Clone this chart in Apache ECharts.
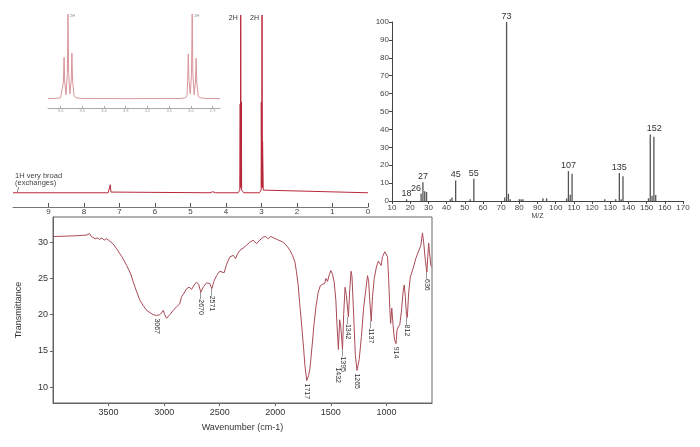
<!DOCTYPE html>
<html>
<head>
<meta charset="utf-8">
<script src="https://cdn.jsdelivr.net/npm/echarts@6/dist/echarts.min.js"></script>
<style>
  html, body { margin: 0; padding: 0; background: #fff; }
  #chart { width: 700px; height: 447px; }
</style>
</head>
<body>
<div id="chart"></div>
<script>
// 1H NMR (ppm, relative intensity)
const nmrPpm = [10, 7.32, 7.28, 7.26, 7.24, 7.2, 4.45, 4.37, 4.3, 3.66, 3.62, 3.61, 3.6, 3.595, 3.585, 3.575, 3.565, 3.56, 3.54, 3.5,
  3.06, 3.02, 3.01, 3.005, 2.995, 2.985, 2.975, 2.97, 2.95, 2.9, 0];
const nmrInt = [0, 0, 0.4, 4.5, 0.4, 0, 0, 0.6, 0, 0, 0.8, 1.5, 50, 3, 100, 3, 51, 1.5, 0.8, 0,
  0, 0.8, 1.5, 51, 3, 100, 3, 29, 1.5, 0.6, 0];
const nmrAssign = { 3.585: '2H', 2.985: '2H' };
const nmrTicks = [0, 1, 2, 3, 4, 5, 6, 7, 8, 9];

// expanded inset of the two triplets
const insetPpm = [3.658, 3.62, 3.6, 3.592, 3.587, 3.584, 3.581, 3.575, 3.569, 3.566, 3.563, 3.557, 3.551, 3.548, 3.545, 3.538, 3.53, 3.5,
  3.3, 3.05, 3.025, 3.018, 3.015, 3.012, 3.009, 3.003, 2.997, 2.994, 2.991, 2.985, 2.979, 2.976, 2.973, 2.966, 2.955, 2.93, 2.866];
const insetInt = [0.5, 0.8, 1.5, 3, 20, 49, 20, 5, 30, 100, 30, 6, 22, 54, 22, 4, 1.5, 0.6,
  0.5, 0.6, 1.5, 4, 22, 53, 22, 6, 30, 100, 30, 5, 20, 48, 20, 3, 1.5, 0.7, 0.5];
const insetTicks = [2.9, 3.0, 3.1, 3.2, 3.3, 3.4, 3.5, 3.6];

// mass spectrum
const msMz = [18, 26, 27, 28, 29, 42, 43, 45, 53, 55, 72, 73, 74, 75, 80, 81, 82, 93, 95, 106, 107, 108, 109,
  127, 133, 135, 136, 137, 151, 152, 153, 154, 155];
const msAbund = [1, 4, 10.5, 5.5, 5, 1, 2, 11.5, 1, 12.5, 2, 100, 4, 1, 1, 1, 1, 1.5, 1.5, 1.5, 16.7, 3.5, 15.2,
  1, 1, 15.6, 1, 13.8, 1.5, 37.2, 3, 35.9, 3.3];
const msLabeled = [18, 26, 27, 45, 55, 73, 107, 135, 152];

// IR spectrum
const irWavenumber = [4000, 3800, 3700, 3670, 3655, 3640, 3620, 3600, 3580, 3560, 3540, 3520, 3500, 3460, 3427, 3380, 3337, 3300,
  3278, 3250, 3218, 3190, 3157, 3120, 3098, 3067, 3040, 3020, 3008, 2995, 2978, 2950, 2918, 2888, 2860, 2843, 2820, 2798,
  2775, 2753, 2730, 2708, 2690, 2670, 2645, 2618, 2590, 2571, 2550, 2528, 2500, 2483, 2460, 2440, 2408, 2378, 2357, 2340,
  2318, 2290, 2258, 2230, 2198, 2168, 2140, 2109, 2085, 2064, 2040, 2024, 2000, 1970, 1940, 1914, 1890, 1869, 1845, 1824,
  1810, 1794, 1780, 1763, 1745, 1733, 1717, 1700, 1688, 1670, 1652, 1635, 1614, 1595, 1575, 1555, 1545, 1530, 1515, 1500,
  1485, 1470, 1455, 1445, 1432, 1421, 1412, 1395, 1385, 1372, 1360, 1342, 1330, 1318, 1310, 1295, 1280, 1265, 1245, 1225,
  1205, 1185, 1170, 1160, 1150, 1137, 1125, 1110, 1090, 1072, 1060, 1048, 1035, 1015, 1000, 990, 980, 970, 962, 952, 940,
  928, 914, 905, 895, 880, 865, 850, 840, 830, 820, 812, 800, 785, 760, 735, 710, 690, 676, 665, 650, 636, 628, 620, 612,
  600, 590];
const irTransmittance = [30.8, 30.9, 31.0, 31.2, 30.8, 30.9, 30.5, 30.6, 30.4, 30.6, 30.3, 30.5, 30.3, 29.8, 29.1, 28.0, 26.8, 25.6,
  24.5, 23.3, 22.0, 21.3, 20.6, 20.2, 20.0, 19.9, 20.0, 20.3, 20.6, 20.0, 19.5, 20.0, 20.6, 21.1, 21.5, 22.5, 23.0, 23.6,
  23.8, 23.5, 24.1, 24.5, 24.2, 23.1, 23.9, 24.4, 24.3, 23.6, 24.7, 25.4, 26.0, 26.1, 25.8, 26.9, 28.0, 28.2, 27.75, 28.4,
  28.9, 29.2, 29.6, 30.0, 30.3, 29.8, 30.3, 30.7, 30.8, 30.5, 30.8, 30.6, 30.5, 30.3, 30.1, 29.8, 29.4, 28.9, 28.2, 27.3,
  26.0, 24.1, 21.5, 18.6, 15.3, 12.9, 10.9, 11.6, 12.6, 15.5, 18.6, 21.0, 23.1, 24.0, 24.2, 24.3, 25.0, 24.6, 25.5, 26.1,
  25.6, 24.5, 22.0, 18.6, 15.2, 19.3, 18.6, 15.2, 20.0, 23.8, 22.6, 19.7, 23.5, 26.0, 25.3, 20.0, 14.5, 12.3, 13.8, 17.0,
  21.0, 23.5, 25.4, 24.6, 22.0, 19.1, 22.5, 25.0, 26.6, 27.4, 27.2, 26.8, 28.0, 28.7, 28.7, 28.0, 25.0, 21.0, 18.8, 20.9, 18.5,
  16.6, 16.0, 17.8, 18.3, 18.6, 20.5, 23.2, 24.1, 22.5, 20.0, 19.6, 23.0, 25.2, 26.4, 27.8, 28.8, 29.6, 31.3, 30.0, 27.5,
  25.9, 28.0, 29.9, 28.5, 26.8, 26.6];
const irPeaks = [3067, 2670, 2571, 1717, 1432, 1395, 1342, 1265, 1137, 914, 812, 636];
const irDashed = [2670, 2571, 1395, 1342, 1137, 812, 636];
const irTicksX = [1000, 1500, 2000, 2500, 3000, 3500];
const irTicksY = [10, 15, 20, 25, 30];

const FONT = 'Liberation Sans';
const myChart = echarts.init(document.getElementById('chart'));

const nmrData = nmrPpm.map((p, i) => {
  const item = { value: [p, nmrInt[i]] };
  if (nmrAssign[p]) {
    item.label = { show: true, formatter: nmrAssign[p], position: 'left', distance: 3, verticalAlign: 'top',
      fontSize: 7, color: '#333', fontFamily: FONT };
  }
  return item;
});
const insetData = insetPpm.map((p, i) => {
  const item = { value: [p, insetInt[i]] };
  if (insetInt[i] === 100) {
    item.label = { show: true, formatter: '2H', position: 'right', distance: 2, verticalAlign: 'top',
      fontSize: 4, color: '#888', fontFamily: FONT };
  }
  return item;
});
const msData = msMz.map((m, i) => {
  const item = { value: [m, msAbund[i]] };
  if (msLabeled.includes(m)) {
    item.label = { show: true, position: 'top', distance: 1, fontSize: 9, color: '#333', fontFamily: FONT,
      formatter: String(m),
      offset: m === 26 ? [-5, 0] : (m === 152 ? [4, 0] : [0, 0]) };
  }
  return item;
});
const irData = irWavenumber.map((w, i) => {
  const item = { value: [w, irTransmittance[i]] };
  if (irPeaks.includes(w)) {
    const dash = irDashed.includes(w);
    item.label = {
      show: true, position: 'bottom', distance: w === 1432 ? 18 : (dash ? 0 : 3),
      rotate: -90, align: 'left', verticalAlign: 'middle',
      offset: w === 1432 ? [4, 6] : [0, 0],
      formatter: (dash ? '\u2014' : '') + w, fontSize: 7, color: '#333', fontFamily: FONT
    };
  }
  return item;
});

// line series helper: invisible symbols so per-point labels can render
function lineSeries(xi, data, color) {
  return {
    type: 'line', xAxisIndex: xi, yAxisIndex: xi, data: data,
    showSymbol: true, showAllSymbol: true, symbol: 'circle', symbolSize: 0,
    lineStyle: { color: color, width: 1 }, itemStyle: { color: color },
    labelLayout: { hideOverlap: false }
  };
}

const option = {
  animation: false,
  textStyle: { fontFamily: FONT },
  grid: [
    { left: 13, top: 15, width: 355, height: 192 },
    { left: 48, top: 14, width: 172, height: 94 },
    { left: 392, top: 22, width: 291, height: 179 },
    { left: 53, top: 217, width: 379, height: 186, show: true, borderColor: '#666', borderWidth: 1 }
  ],
  xAxis: [
    {
      gridIndex: 0, type: 'value', min: 0, max: 10, inverse: true,
      axisLine: { onZero: false, lineStyle: { color: '#777' } },
      axisTick: { inside: true, length: 4, customValues: nmrTicks, lineStyle: { color: '#555' } },
      axisLabel: { customValues: nmrTicks, fontSize: 8, color: '#444', margin: 1 },
      splitLine: { show: false }
    },
    {
      gridIndex: 1, type: 'value', min: 2.866, max: 3.658, inverse: true,
      axisLine: { onZero: false, lineStyle: { color: '#aaa' } },
      axisTick: { inside: true, length: 2, customValues: insetTicks, lineStyle: { color: '#aaa' } },
      axisLabel: { customValues: insetTicks, fontSize: 4, color: '#999', margin: 1, formatter: v => v.toFixed(1) },
      splitLine: { show: false }
    },
    {
      gridIndex: 2, type: 'value', min: 10, max: 170, interval: 10,
      name: 'M/Z', nameLocation: 'middle', nameGap: 8, nameTextStyle: { fontSize: 7, color: '#444' },
      axisLine: { onZero: false, lineStyle: { color: '#444' } },
      axisTick: { length: 3, lineStyle: { color: '#444' } },
      axisLabel: { fontSize: 8, color: '#444', margin: 3 },
      splitLine: { show: false }
    },
    {
      gridIndex: 3, type: 'value', min: 590, max: 4000, inverse: true,
      name: 'Wavenumber (cm-1)', nameLocation: 'middle', nameGap: 20,
      nameTextStyle: { fontSize: 9, color: '#333' },
      axisLine: { onZero: false, lineStyle: { color: '#666' } },
      axisTick: { length: 3, customValues: irTicksX, lineStyle: { color: '#666' } },
      axisLabel: { customValues: irTicksX, fontSize: 9, color: '#333', margin: 5, formatter: v => String(v) },
      splitLine: { show: false }
    }
  ],
  yAxis: [
    { gridIndex: 0, type: 'value', min: -8, max: 100, show: false, splitLine: { show: false } },
    { gridIndex: 1, type: 'value', min: -10.5, max: 100, show: false, splitLine: { show: false } },
    {
      gridIndex: 2, type: 'value', min: 0, max: 100, interval: 10,
      axisLine: { show: true, onZero: false, lineStyle: { color: '#444' } },
      axisTick: { show: true, length: 3, lineStyle: { color: '#444' } },
      axisLabel: { fontSize: 8, color: '#444', margin: 3 },
      splitLine: { show: false }
    },
    {
      gridIndex: 3, type: 'value', min: 7.8, max: 33.5,
      name: 'Transmittance', nameLocation: 'middle', nameGap: 30, nameRotate: 90,
      nameTextStyle: { fontSize: 9, color: '#333' },
      axisLine: { show: true, onZero: false, lineStyle: { color: '#666' } },
      axisTick: { show: true, length: 3, customValues: irTicksY, lineStyle: { color: '#666' } },
      axisLabel: { customValues: irTicksY, fontSize: 9, color: '#333', margin: 5 },
      splitLine: { show: false }
    }
  ],
  graphic: [
    { type: 'text', left: 15, top: 172, style: { text: '1H very broad\n(exchanges)\n /', fontSize: 7.5, lineHeight: 7, fill: '#444', fontFamily: FONT } }
  ],
  series: [
    lineSeries(0, nmrData, '#b8283a'),
    lineSeries(1, insetData, '#d9959b'),
    {
      type: 'bar', xAxisIndex: 2, yAxisIndex: 2, data: msData,
      barWidth: 1.3, itemStyle: { color: '#555' }
    },
    lineSeries(3, irData, '#a84a55')
  ]
};
myChart.setOption(option);
</script>
</body>
</html>
